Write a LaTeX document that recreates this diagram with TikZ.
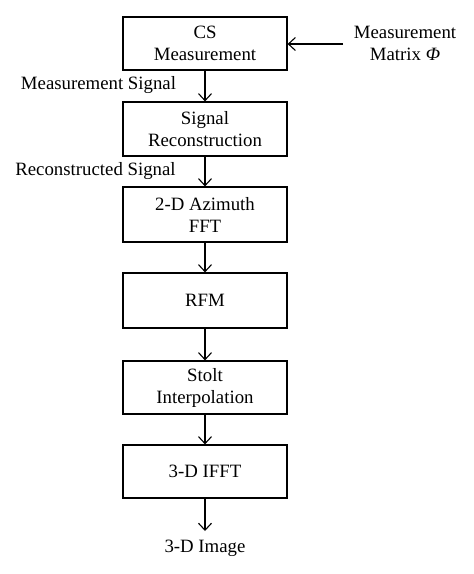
\documentclass[tikz,border=0pt]{standalone}
\usepackage{fontspec}
\setmainfont{Liberation Serif}
\usetikzlibrary{arrows.meta}
\begin{document}
\begin{tikzpicture}[x=1pt,y=-1pt,
  font=\fontsize{18.8}{22}\selectfont,
  box/.style={draw, line width=1.2pt, minimum width=164pt, align=center, inner sep=0pt},
  lbl/.style={align=center, inner sep=0pt},
  arr/.style={line width=1.1pt, -{Straight Barb[length=7pt,width=13pt,line width=1.1pt]}}]
\useasboundingbox (0,0) rectangle (474,574);
\node[box, minimum height=53pt] (b1) at (205,43.5) {CS\\Measurement};
\node[box, minimum height=54pt] (b2) at (205,129) {Signal\\Reconstruction};
\node[box, minimum height=55pt] (b3) at (205,214.5) {2-D Azimuth\\FFT};
\node[box, minimum height=55pt] (b4) at (205,300.5) {RFM};
\node[box, minimum height=53pt] (b5) at (205,387.5) {Stolt\\Interpolation};
\node[box, minimum height=53pt] (b6) at (205,471.5) {3-D IFFT};
\node[lbl] (out) at (205,548) {3-D Image};
\node[lbl] (mm) at (405,43) {Measurement\\Matrix \textit{Φ}};
\node[lbl] (ms) at (98.5,85) {Measurement Signal};
\node[lbl] (rs) at (95.5,171) {Reconstructed Signal};
\coordinate (mmend) at (343,44);
\coordinate (outtop) at (205,531);
\draw[arr] (mmend) -- (b1.east |- mmend);
\draw[arr] (b1) -- (b2);
\draw[arr] (b2) -- (b3);
\draw[arr] (b3) -- (b4);
\draw[arr] (b4) -- (b5);
\draw[arr] (b5) -- (b6);
\draw[arr] (b6) -- (outtop);
\end{tikzpicture}
\end{document}
